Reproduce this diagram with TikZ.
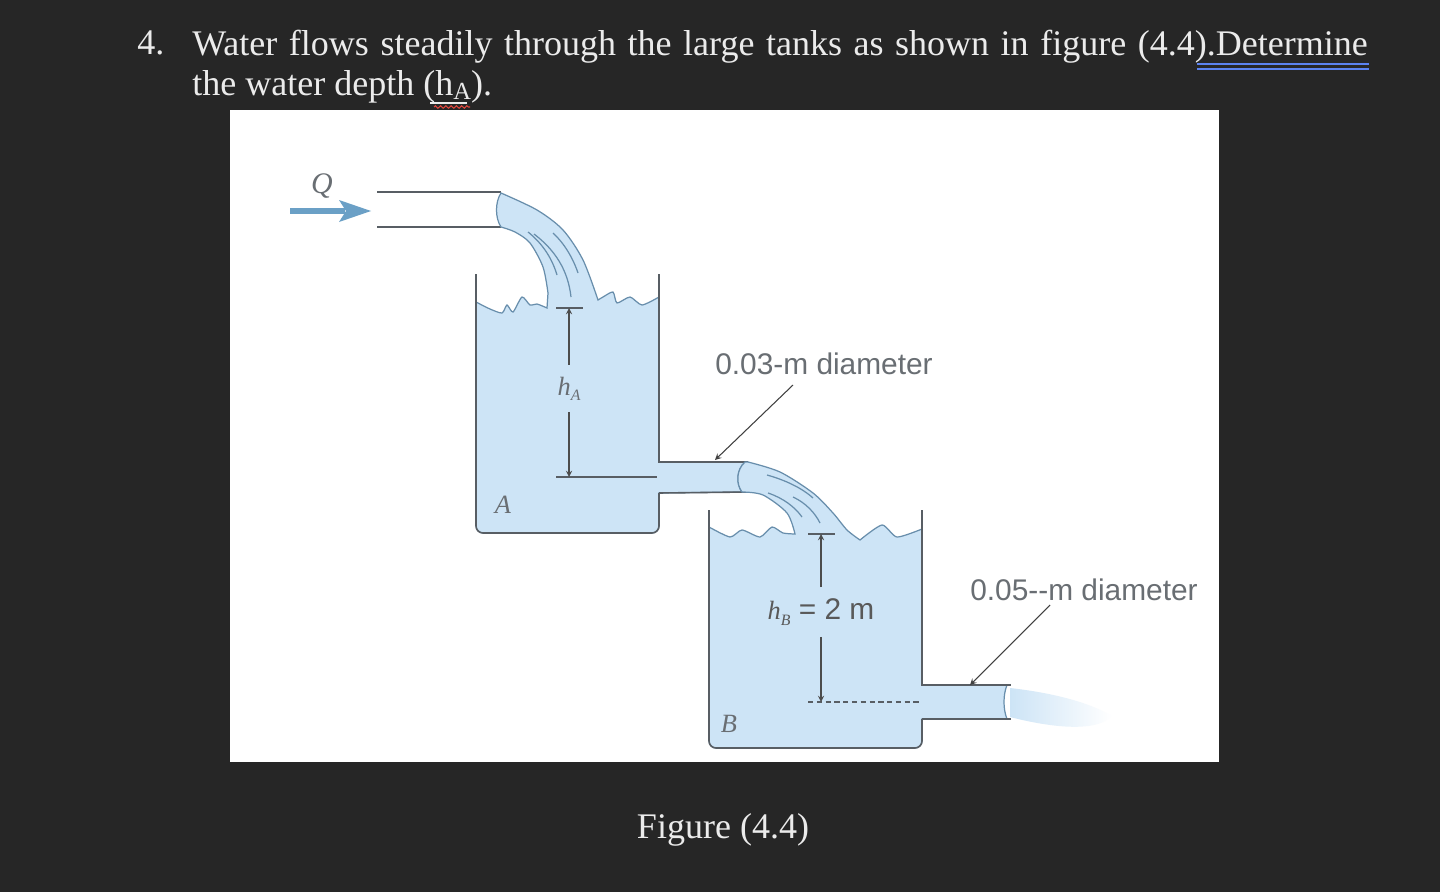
\documentclass[tikz,border=0pt]{standalone}
\usepackage{fontspec}
\setmainfont{Liberation Serif}
\newfontfamily\labelfont{Liberation Sans}
\usetikzlibrary{decorations.pathmorphing}
\definecolor{page}{RGB}{38, 38, 38}
\definecolor{water}{RGB}{205, 228, 246}
\definecolor{edge}{RGB}{104, 142, 172}
\definecolor{wall}{RGB}{88, 94, 100}
\definecolor{ink}{RGB}{105, 110, 115}
\definecolor{flow}{RGB}{107, 160, 198}
\definecolor{spell}{RGB}{91, 130, 240}
\definecolor{squiggle}{RGB}{225, 70, 60}
\tikzset{
  pagetext/.style={text=white!92!black, inner sep=0, font=\fontsize{20.5}{22.8}\selectfont},
  tanklabel/.style={text=ink, inner sep=0, font=\fontsize{15}{15}\selectfont\itshape},
  sizelabel/.style={text=ink, inner sep=0, font=\labelfont\fontsize{17}{17}\selectfont},
  pipewall/.style={draw=wall, line width=0.9pt},
  dimline/.style={->, >=stealth, draw=black!70, line width=0.6pt},
  leader/.style={->, >=stealth, draw=black!75, line width=0.6pt},
  datum/.style={draw=wall, line width=0.7pt},
  stream/.style={draw=edge, line width=0.7pt}
}

\begin{document}
\begin{tikzpicture}[x=0.02cm, y=-0.02cm]
  \fill [page] (0, 0) rectangle (1440, 892);

  % question text
  \node [pagetext, anchor=north west] (number) at (137, 30) {4.};
  \node [pagetext, anchor=north west, text width=669pt, align=justify] (question) at (192, 30)
  {Water flows steadily through the large tanks as shown in figure (4.4).Determine\linebreak
  the water depth (h\raisebox{-2pt}{\fontsize{14}{14}\selectfont A}).};
  \draw [spell, line width=1.1pt] (1197, 64) -- (1369, 64) (1197, 69) -- (1369, 69);
  \draw [white!92!black, line width=0.6pt] (430, 103) -- (467, 103);
  \draw [squiggle, line width=0.6pt, decorate, decoration={zigzag, segment length=3pt, amplitude=0.7pt}]
    (434, 107) -- (470, 107);

  \fill [white] (230, 110) rectangle (1219, 762);

  % inlet pipe
  \draw [pipewall] (377, 192) -- (501, 192) (377, 227) -- (501, 227);
  \coordinate (flowstart) at (290, 211);
  \coordinate (flowend) at (371, 211);
  \draw [flow, line width=3.5pt] (flowstart) -- (345, 211);
  \fill [flow] (flowend) -- (339, 200) -- (346, 211) -- (339, 222) -- cycle;
  \node [tanklabel, font=\fontsize{17}{17}\selectfont\itshape] (flowlabel) at (322, 186) {Q};

  % tank A with its water, jet and outlet pipe
  \draw [fill=water, draw=edge, line width=0.7pt]
    plot [smooth, tension=0.4] coordinates {(476, 302) (490, 309) (502, 313) (507, 305) (513, 312) (522, 297)
      (530, 305) (537, 304) (547, 308)}
    -- plot [smooth] coordinates {(548, 293) (543, 267) (530, 243) (515, 232) (501, 227)}
    .. controls (495, 218) and (495, 202) .. (501, 193)
    -- plot [smooth] coordinates {(501, 193) (537, 210) (563, 230) (583, 260) (598, 300)}
    -- plot [smooth, tension=0.4] coordinates {(598, 300) (603, 297) (613, 292) (617, 303) (630, 297)
      (642, 305) (659, 297)}
    -- (659, 462) -- (745, 462) .. controls (736, 470) and (736, 484) .. (742, 492)
    -- (659, 493) [rounded corners=4pt] -- (659, 533) -- (476, 533) [sharp corners] -- cycle;
  \draw [pipewall, rounded corners=4pt] (476, 274) -- (476, 533) -- (659, 533) -- (659, 493);
  \draw [pipewall] (659, 274) -- (659, 462) -- (748, 462) (659, 493) -- (748, 492);

  \draw [stream] (528, 232) .. controls (542, 243) and (552, 258) .. (557, 275);
  \draw [stream] (553, 233) .. controls (564, 243) and (573, 258) .. (578, 273);
  \draw [stream] (534, 234) .. controls (555, 250) and (568, 270) .. (571, 297);

  \coordinate (topA) at (569, 308);
  \coordinate (bottomA) at (569, 477);
  \draw [datum] (556, 308) -- (583, 308);
  \draw [datum] (556, 477) -- (657, 477);
  \node [tanklabel, minimum height=47*0.02cm] (depthA) at (569, 388.5)
  {h\raisebox{-3pt}{\fontsize{9}{9}\selectfont A}};
  \draw [dimline] (depthA) -- (topA);
  \draw [dimline] (depthA) -- (bottomA);
  \node [tanklabel] (tankA) at (503, 505) {A};

  % tank B with its water, jet and outlet pipe
  \draw [fill=water, draw=edge, line width=0.7pt]
    plot [smooth, tension=0.4] coordinates {(709, 527) (730, 537) (742, 530) (760, 537) (772, 527) (783, 533)
      (795, 534)}
    -- plot [smooth] coordinates {(795, 534) (787, 513) (763, 495) (742, 492)}
    .. controls (736, 484) and (736, 470) .. (745, 462)
    -- plot [smooth] coordinates {(748, 462) (780, 472) (813, 493) (833, 513) (847, 530) (860, 540)}
    -- plot [smooth, tension=0.4] coordinates {(860, 540) (882, 525) (897, 537) (922, 529)}
    -- (922, 685) -- (1007, 685) .. controls (1003, 695) and (1003, 709) .. (1007, 719)
    -- (922, 719) [rounded corners=4pt] -- (922, 748) -- (709, 748) [sharp corners] -- cycle;
  \draw [pipewall, rounded corners=4pt] (709, 510) -- (709, 748) -- (922, 748) -- (922, 719);
  \draw [pipewall] (922, 510) -- (922, 685) -- (1011, 685) (922, 719) -- (1011, 719);

  \draw [stream] (767, 475) .. controls (785, 480) and (802, 488) .. (813, 498);
  \draw [stream] (768, 493) .. controls (783, 498) and (795, 507) .. (802, 517);
  \draw [stream] (793, 497) .. controls (806, 503) and (815, 513) .. (820, 523);

  \coordinate (topB) at (821, 534);
  \coordinate (bottomB) at (821, 702);
  \draw [datum] (808, 534) -- (835, 534);
  \draw [datum, densely dashed] (808, 702) -- (922, 702);
  \node [sizelabel, minimum height=49*0.02cm, text=black!65] (depthB) at (821, 612)
  {{\rmfamily\itshape\fontsize{15}{15}\selectfont h\raisebox{-3pt}{\fontsize{9}{9}\selectfont B}} = 2 m};
  \draw [dimline] (depthB) -- (topB);
  \draw [dimline] (depthB) -- (bottomB);
  \node [tanklabel] (tankB) at (729, 724) {B};

  % outflow fading out
  \shade [left color=water, right color=white]
    (1010, 688) .. controls (1045, 692) and (1085, 700) .. (1112, 716)
    .. controls (1095, 734) and (1045, 726) .. (1010, 717) -- cycle;

  % pipe sizes
  \node [sizelabel] (sizeAB) at (824, 364) {0.03-m diameter};
  \node [sizelabel] (sizeout) at (1084, 590) {0.05--m diameter};
  \coordinate (leadAB) at (793, 385);
  \coordinate (pipeAB) at (715, 460);
  \coordinate (leadout) at (1050, 605);
  \coordinate (pipeout) at (970, 685);
  \draw [leader] (leadAB) -- (pipeAB);
  \draw [leader] (leadout) -- (pipeout);

  \node [pagetext] (caption) at (723, 830) {Figure (4.4)};
\end{tikzpicture}
\end{document}
